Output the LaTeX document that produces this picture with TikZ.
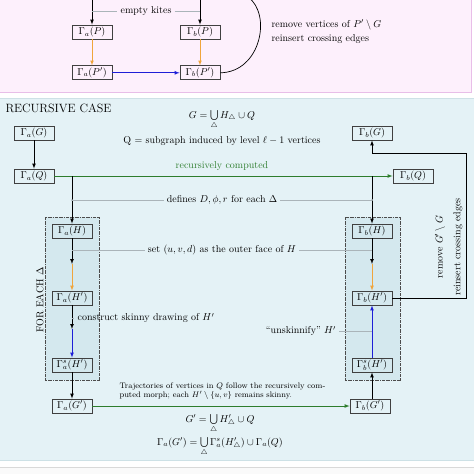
\documentclass[tikz,border=0pt]{standalone}
\usepackage{amsmath,amssymb}
\usepackage[table]{xcolor}
\usepackage{tikz}
\usetikzlibrary{positioning}

\definecolor{pinkbg}{RGB}{253,240,252}
\definecolor{pinkline}{RGB}{232,190,232}
\definecolor{bluebg}{RGB}{228,242,246}
\definecolor{blueline}{RGB}{205,225,230}
\definecolor{eachbg}{RGB}{212,232,238}
\definecolor{morange}{RGB}{240,165,60}
\definecolor{mblue}{RGB}{30,30,215}
\definecolor{mgreen}{RGB}{45,125,45}
\definecolor{guidegray}{RGB}{170,180,185}

\begin{document}
\begin{tikzpicture}[x=1pt,y=-1pt,>=latex,
	box/.style={draw=black!75, line width=0.8pt, minimum width=40pt, minimum height=14pt, inner sep=1.5pt},
	note/.style={inner sep=3pt},
	guide/.style={draw=guidegray, line width=0.6pt},
	link/.style={->, line width=0.7pt},
	orangelink/.style={->, line width=0.7pt, morange},
	bluelink/.style={->, line width=0.7pt, mblue},
	greenlink/.style={->, line width=0.7pt, mgreen},
	eachbox/.style={draw=black!70, densely dashdotted, fill=eachbg}]
\useasboundingbox (0,0) rectangle (474,474);
\fill[white] (0,0) rectangle (474,474);
\draw[pinkline, fill=pinkbg] (-2,-5) rectangle (471,92);
\draw[blueline, fill=bluebg] (-2,98) rectangle (476,460);
\draw[gray!30, fill=gray!4] (-2,467) rectangle (476,480);

% base case (tail)
\node [box] (aP) at (92,32) {$\Gamma_a(P)$};
\node [box] (bP) at (200,32) {$\Gamma_b(P)$};
\node [box, below=26pt of aP] (aPp) {$\Gamma_a(P')$};
\node [box, below=26pt of bP] (bPp) {$\Gamma_b(P')$};
\coordinate (aPtop) at (92,-3);
\coordinate (bPtop) at (200,-3);
\coordinate (bPend) at (248,-3);
\draw[link] (aPtop) -- (aP);
\draw[link] (bPtop) -- (bP);
\node [note] (kites) at (146,11) {empty kites};
\coordinate (ka) at (92,11);
\coordinate (kb) at (200,11);
\draw[guide] (ka) -- (kites);
\draw[guide] (kites) -- (kb);
\draw[orangelink] (aP) -- (aPp);
\draw[orangelink] (bP) -- (bPp);
\draw[bluelink] (aPp) -- (bPp);
\draw[line width=0.7pt] (bPp.east) .. controls (261,72) and (272,14) .. (bPend);
\node [anchor=west] (rmP) at (268,25) {remove vertices of $P'\setminus G$};
\node [anchor=west] (reP) at (268,39) {reinsert crossing edges};

% recursive case
\node [anchor=west, font=\large] (title) at (2,108) {RECURSIVE CASE};
\node (Gdef) at (222,120) {$G=\bigcup\limits_{\triangle}H_{\triangle}\cup Q$};
\node (Qdef) at (222,141) {Q = subgraph induced by level $\ell-1$ vertices};

\draw[eachbox] (45,217) rectangle (99,380);
\draw[eachbox] (345,217) rectangle (400,380);
\node [rotate=90] (foreach) at (40,300) {FOR EACH $\Delta$};

\node [box] (aG) at (34,133) {$\Gamma_a(G)$};
\node [box] (bG) at (372,133) {$\Gamma_b(G)$};
\node [box] (aQ) at (34,176) {$\Gamma_a(Q)$};
\node [box] (bQ) at (413,176) {$\Gamma_b(Q)$};
\node [box] (aH) at (72,231) {$\Gamma_a(H)$};
\node [box] (aHp) at (72,298) {$\Gamma_a(H')$};
\node [box] (aHs) at (72,365) {$\Gamma^s_a(H')$};
\node [box] (aGp) at (72,406) {$\Gamma_a(G')$};
\node [box] (bH) at (372,231) {$\Gamma_b(H)$};
\node [box] (bHp) at (372,298) {$\Gamma_b(H')$};
\node [box] (bHs) at (372,365) {$\Gamma^s_b(H')$};
\node [box] (bGp) at (370,406) {$\Gamma_b(G')$};

\node [mgreen] (rec) at (222,166) {recursively computed};
\draw[link] (aG) -- (aQ);
\draw[greenlink] (aQ) -- (bQ);
\coordinate (qa) at (72,176);
\coordinate (qb) at (372,176);
\draw[link] (qa) -- (aH);
\draw[link] (qb) -- (bH);

\node [note] (defs) at (222,200) {defines $D,\phi,r$ for each $\Delta$};
\coordinate (da) at (72,200);
\coordinate (db) at (372,200);
\draw[guide] (da) -- (defs);
\draw[guide] (defs) -- (db);
\fill[guidegray] (da) circle (1pt) (db) circle (1pt);

\coordinate (aHm) at (72,264);
\coordinate (bHm) at (372,264);
\coordinate (aSm) at (72,329);
\draw[link] (aH) -- (aHm);
\draw[orangelink] (aHm) -- (aHp);
\draw[link] (bH) -- (bHm);
\draw[orangelink] (bHm) -- (bHp);
\draw[link] (aHp) -- (aSm);
\draw[bluelink] (aSm) -- (aHs);
\draw[bluelink] (bHs) -- (bHp);
\draw[link] (aHs) -- (aGp);
\draw[link] (bGp.north -| bHs) -- (bHs);
\draw[greenlink] (aGp) -- (bGp);

\node [note] (outer) at (222,250) {set $(u,v,d)$ as the outer face of $H$};
\coordinate (oa) at (72,250);
\coordinate (ob) at (372,250);
\draw[guide] (oa) -- (outer);
\draw[guide] (outer) -- (ob);
\node [note] (skinny) at (146,318) {construct skinny drawing of $H'$};
\coordinate (sa) at (72,318);
\draw[guide] (sa) -- (skinny);
\node [note] (unskinny) at (301,331) {``unskinnify'' $H'$};
\coordinate (ub) at (372,331);
\draw[guide] (unskinny) -- (ub);

\coordinate (corner) at (466,153);
\draw[link] (bHp.east) -| (corner) -| (bG.south);
\node [rotate=90] (rmG) at (440,247) {remove $G'\setminus G$};
\node [rotate=90] (reG) at (458,247) {reinsert crossing edges};

\node [anchor=west, align=left, font=\footnotesize] (traj) at (116,391) {Trajectories of vertices in $Q$ follow the recursively com-\\puted morph; each $H'\setminus\{u,v\}$ remains skinny.};
\node (Gpdef) at (220,424) {$G'=\bigcup\limits_{\triangle}H'_{\triangle}\cup Q$};
\node (Gamdef) at (220,447) {$\Gamma_a(G')=\bigcup\limits_{\triangle}\Gamma^s_a(H'_{\triangle})\cup\Gamma_a(Q)$};
\end{tikzpicture}
\end{document}
